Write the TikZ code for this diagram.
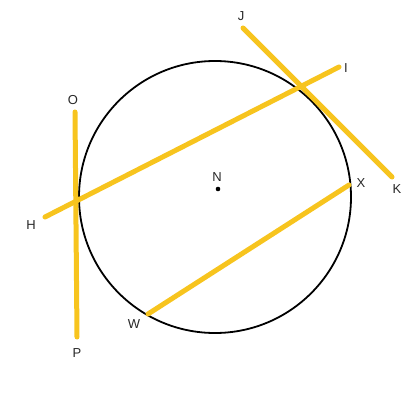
\documentclass[tikz,border=0pt]{standalone}
\usepackage{fontspec}
\setmainfont{Liberation Sans}
\begin{document}
\begin{tikzpicture}[x=1pt,y=-1pt,
  seg/.style={draw={rgb,255:red,247;green,196;blue,30},line width=5pt,line cap=round},
  lbl/.style={text={rgb,255:red,40;green,40;blue,40},font=\fontsize{13}{13}\selectfont,inner sep=0pt}]
\useasboundingbox (0,0) rectangle (414,414);
\draw[black,line width=1.8pt] (215,197) circle (136);
\fill (218,189) circle (2.3);
% endpoints
\coordinate (j) at (243,28);
\coordinate (k) at (392,177);
\coordinate (h) at (45,217);
\coordinate (i) at (339,67);
\coordinate (o) at (75,112);
\coordinate (p) at (77,337);
\coordinate (w) at (148,314);
\coordinate (x) at (349,185);
\draw[seg] (j) -- (k);
\draw[seg] (h) -- (i);
\draw[seg] (o) -- (p);
\draw[seg] (w) -- (x);
% labels
\node[lbl] (lJ) at (241,16) {J};
\node[lbl] (lI) at (346,68) {I};
\node[lbl] (lK) at (397,189) {K};
\node[lbl] (lX) at (361,183) {X};
\node[lbl] (lN) at (217,177) {N};
\node[lbl] (lO) at (73,100) {O};
\node[lbl] (lH) at (31,225) {H};
\node[lbl] (lW) at (134,324) {W};
\node[lbl] (lP) at (77,353) {P};
\end{tikzpicture}
\end{document}
